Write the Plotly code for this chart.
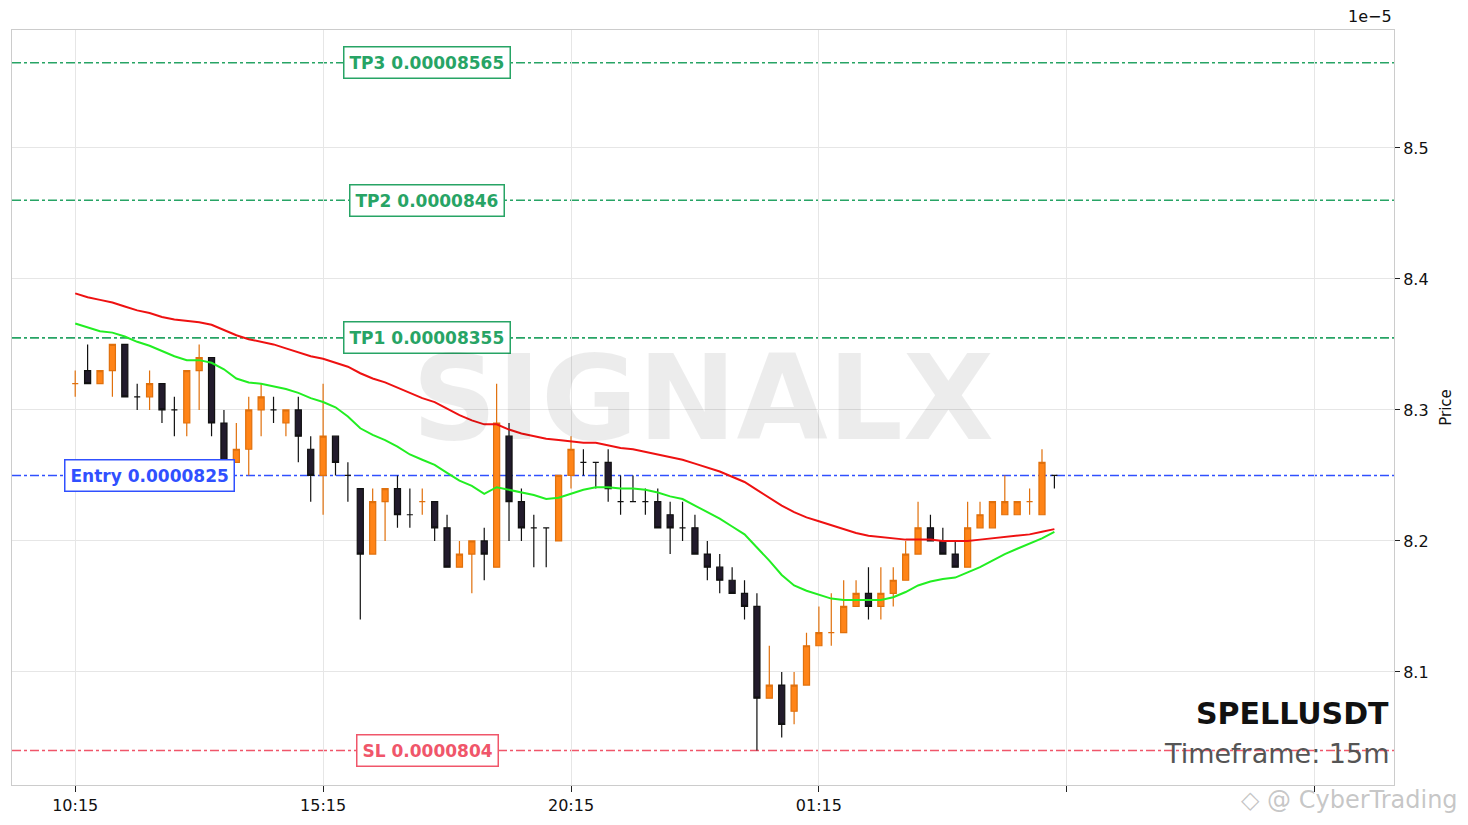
import plotly.graph_objects as go

# 15m candles, prices in units of 1e-5
opens = [8.32, 8.33, 8.32, 8.33, 8.35, 8.31, 8.31, 8.32, 8.30, 8.29,
         8.33, 8.34, 8.29, 8.26, 8.27, 8.30, 8.30, 8.29, 8.30, 8.27,
         8.25, 8.28, 8.25, 8.24, 8.19, 8.23, 8.24, 8.22, 8.23, 8.23,
         8.21, 8.18, 8.19, 8.20, 8.18, 8.28, 8.23, 8.21, 8.21, 8.20,
         8.25, 8.26, 8.26, 8.26, 8.23, 8.23, 8.23, 8.23, 8.22, 8.21,
         8.21, 8.19, 8.18, 8.17, 8.16, 8.15, 8.08, 8.09, 8.07, 8.09,
         8.12, 8.13, 8.13, 8.15, 8.16, 8.15, 8.16, 8.17, 8.19, 8.21,
         8.20, 8.19, 8.18, 8.21, 8.21, 8.22, 8.22, 8.23, 8.22, 8.25]
highs = [8.33, 8.35, 8.33, 8.35, 8.35, 8.32, 8.33, 8.32, 8.31, 8.33,
         8.35, 8.34, 8.30, 8.29, 8.31, 8.32, 8.31, 8.30, 8.31, 8.28,
         8.32, 8.28, 8.26, 8.24, 8.24, 8.24, 8.25, 8.24, 8.24, 8.23,
         8.22, 8.20, 8.20, 8.21, 8.32, 8.29, 8.24, 8.22, 8.21, 8.25,
         8.28, 8.27, 8.26, 8.27, 8.25, 8.25, 8.24, 8.24, 8.23, 8.23,
         8.22, 8.20, 8.19, 8.18, 8.17, 8.16, 8.12, 8.10, 8.10, 8.13,
         8.15, 8.16, 8.17, 8.17, 8.18, 8.18, 8.18, 8.20, 8.23, 8.22,
         8.21, 8.20, 8.23, 8.23, 8.23, 8.25, 8.23, 8.24, 8.27, 8.25]
lows = [8.31, 8.32, 8.32, 8.31, 8.31, 8.30, 8.30, 8.29, 8.28, 8.28,
        8.30, 8.28, 8.26, 8.26, 8.25, 8.28, 8.29, 8.28, 8.26, 8.23,
        8.22, 8.25, 8.23, 8.14, 8.19, 8.20, 8.21, 8.21, 8.22, 8.20,
        8.18, 8.18, 8.16, 8.17, 8.18, 8.20, 8.20, 8.18, 8.18, 8.20,
        8.24, 8.25, 8.24, 8.23, 8.22, 8.23, 8.22, 8.21, 8.19, 8.20,
        8.19, 8.17, 8.16, 8.16, 8.14, 8.04, 8.08, 8.05, 8.06, 8.09,
        8.12, 8.12, 8.13, 8.15, 8.14, 8.14, 8.15, 8.17, 8.19, 8.20,
        8.19, 8.18, 8.18, 8.21, 8.21, 8.22, 8.22, 8.22, 8.22, 8.24]
closes = [8.32, 8.32, 8.33, 8.35, 8.31, 8.31, 8.32, 8.30, 8.30, 8.33,
          8.34, 8.29, 8.26, 8.27, 8.30, 8.31, 8.30, 8.30, 8.28, 8.25,
          8.28, 8.26, 8.25, 8.19, 8.23, 8.24, 8.22, 8.22, 8.23, 8.21,
          8.18, 8.19, 8.20, 8.19, 8.29, 8.23, 8.21, 8.21, 8.21, 8.25,
          8.27, 8.26, 8.26, 8.24, 8.23, 8.23, 8.23, 8.21, 8.21, 8.21,
          8.19, 8.18, 8.17, 8.16, 8.15, 8.08, 8.09, 8.06, 8.09, 8.12,
          8.13, 8.13, 8.15, 8.16, 8.15, 8.16, 8.17, 8.19, 8.21, 8.20,
          8.19, 8.18, 8.21, 8.22, 8.23, 8.23, 8.23, 8.23, 8.26, 8.25]

ema_slow = [8.389, 8.386, 8.384, 8.382, 8.379, 8.376, 8.374, 8.371, 8.369, 8.368,
            8.367, 8.365, 8.361, 8.357, 8.354, 8.352, 8.350, 8.347, 8.344, 8.341,
            8.339, 8.336, 8.333, 8.328, 8.324, 8.321, 8.317, 8.313, 8.309, 8.306,
            8.301, 8.296, 8.292, 8.289, 8.289, 8.285, 8.282, 8.280, 8.278, 8.277,
            8.276, 8.275, 8.275, 8.273, 8.271, 8.270, 8.268, 8.266, 8.264, 8.262,
            8.259, 8.256, 8.253, 8.249, 8.245, 8.239, 8.233, 8.227, 8.222, 8.218,
            8.215, 8.212, 8.209, 8.206, 8.204, 8.203, 8.202, 8.201, 8.201, 8.201,
            8.200, 8.200, 8.200, 8.201, 8.202, 8.203, 8.204, 8.205, 8.207, 8.209]
ema_fast = [8.366, 8.363, 8.360, 8.359, 8.356, 8.352, 8.349, 8.345, 8.341, 8.338,
            8.338, 8.336, 8.331, 8.324, 8.321, 8.320, 8.318, 8.316, 8.313, 8.309,
            8.306, 8.302, 8.295, 8.286, 8.281, 8.277, 8.272, 8.266, 8.262, 8.258,
            8.252, 8.246, 8.242, 8.236, 8.241, 8.239, 8.237, 8.235, 8.232, 8.233,
            8.236, 8.239, 8.241, 8.241, 8.240, 8.240, 8.239, 8.237, 8.234, 8.232,
            8.227, 8.222, 8.217, 8.211, 8.205, 8.195, 8.185, 8.174, 8.166, 8.162,
            8.159, 8.156, 8.155, 8.155, 8.155, 8.155, 8.157, 8.161, 8.166, 8.169,
            8.171, 8.172, 8.176, 8.180, 8.185, 8.190, 8.194, 8.198, 8.202, 8.207]

tick_vals = [0, 20, 40, 60, 80, 100]
tick_text = ["10:15", "15:15", "20:15", "01:15", "", ""]

level_names = ["TP3", "TP2", "TP1", "Entry", "SL"]
level_prices = [8.565, 8.46, 8.355, 8.25, 8.04]
level_colors = ["#27a465", "#27a465", "#27a465", "#3050ff", "#f0566a"]
label_x = [28.4, 28.4, 28.4, 6.0, 28.4]

symbol = "SPELLUSDT"
timeframe = "15m"

idx = list(range(len(opens)))

fig = go.Figure()

fig.add_trace(go.Candlestick(
    x=idx, open=opens, high=highs, low=lows, close=closes,
    increasing=dict(line=dict(color="#e0700c", width=1.2), fillcolor="#ff8418"),
    decreasing=dict(line=dict(color="#111111", width=1.2), fillcolor="#221b2c"),
    whiskerwidth=0,
    hoverinfo="skip",
))
fig.add_trace(go.Scatter(x=idx, y=ema_slow, mode="lines",
                         line=dict(color="#ee1111", width=2), hoverinfo="skip"))
fig.add_trace(go.Scatter(x=idx, y=ema_fast, mode="lines",
                         line=dict(color="#22ee22", width=2), hoverinfo="skip"))

# horizontal trade levels + labels
for name, price, col, lx in zip(level_names, level_prices, level_colors, label_x):
    fig.add_shape(type="line", xref="paper", x0=0, x1=1, yref="y", y0=price, y1=price,
                  line=dict(color=col, width=1.6, dash="dashdot"), layer="below")
    txt = f"{price * 1e-5:.8f}".rstrip("0")
    fig.add_annotation(x=lx, y=price, xref="x", yref="y", text=f"<b>{name} {txt}</b>",
                       showarrow=False, font=dict(size=17, color=col),
                       bgcolor="white", bordercolor=col, borderwidth=1.5, borderpad=5)

# watermark
fig.add_annotation(x=0.5, y=0.512, xref="paper", yref="paper", text="<b>SIGNALX</b>",
                   showarrow=False, font=dict(size=118, color="rgba(0,0,0,0.075)"))

fig.add_annotation(x=0.998, y=0.095, xref="paper", yref="paper", text=f"<b>{symbol}</b>",
                   showarrow=False, xanchor="right", yanchor="middle",
                   font=dict(size=30, color="#111111"))
fig.add_annotation(x=0.998, y=0.042, xref="paper", yref="paper", text=f"Timeframe: {timeframe}",
                   showarrow=False, xanchor="right", yanchor="middle",
                   font=dict(size=27, color="#555555"))
fig.add_annotation(x=1, y=1.003, xref="paper", yref="paper", text="1e\u22125",
                   showarrow=False, xanchor="right", yanchor="bottom",
                   font=dict(size=16, color="#111111"))
fig.add_annotation(x=1.048, y=-0.02, xref="paper", yref="paper", text="\u25c7 @ CyberTrading",
                   showarrow=False, xanchor="right", yanchor="middle",
                   font=dict(size=24, color="rgba(150,150,150,0.55)"))

fig.update_layout(
    width=1460, height=817,
    margin=dict(l=4, r=74, t=22, b=40),
    paper_bgcolor="white", plot_bgcolor="white",
    showlegend=False,
    font=dict(family="DejaVu Sans", size=16, color="#111111"),
    xaxis=dict(range=[-5.1, 106.4], tickvals=tick_vals, ticktext=tick_text,
               showgrid=True, gridcolor="#e6e6e6", gridwidth=1,
               ticks="outside", ticklen=6, tickcolor="#222",
               showline=True, linecolor="#cccccc", mirror=True, zeroline=False,
               rangeslider=dict(visible=False)),
    yaxis=dict(range=[8.0137, 8.590], side="right", tickvals=[8.1, 8.2, 8.3, 8.4, 8.5],
               tickformat=".1f", showgrid=True, gridcolor="#e6e6e6", gridwidth=1,
               ticks="outside", ticklen=5, tickcolor="#222",
               showline=True, linecolor="#cccccc", mirror=True, zeroline=False,
               title=dict(text="Price", font=dict(size=15), standoff=12)),
)

fig.write_html("out.html")
